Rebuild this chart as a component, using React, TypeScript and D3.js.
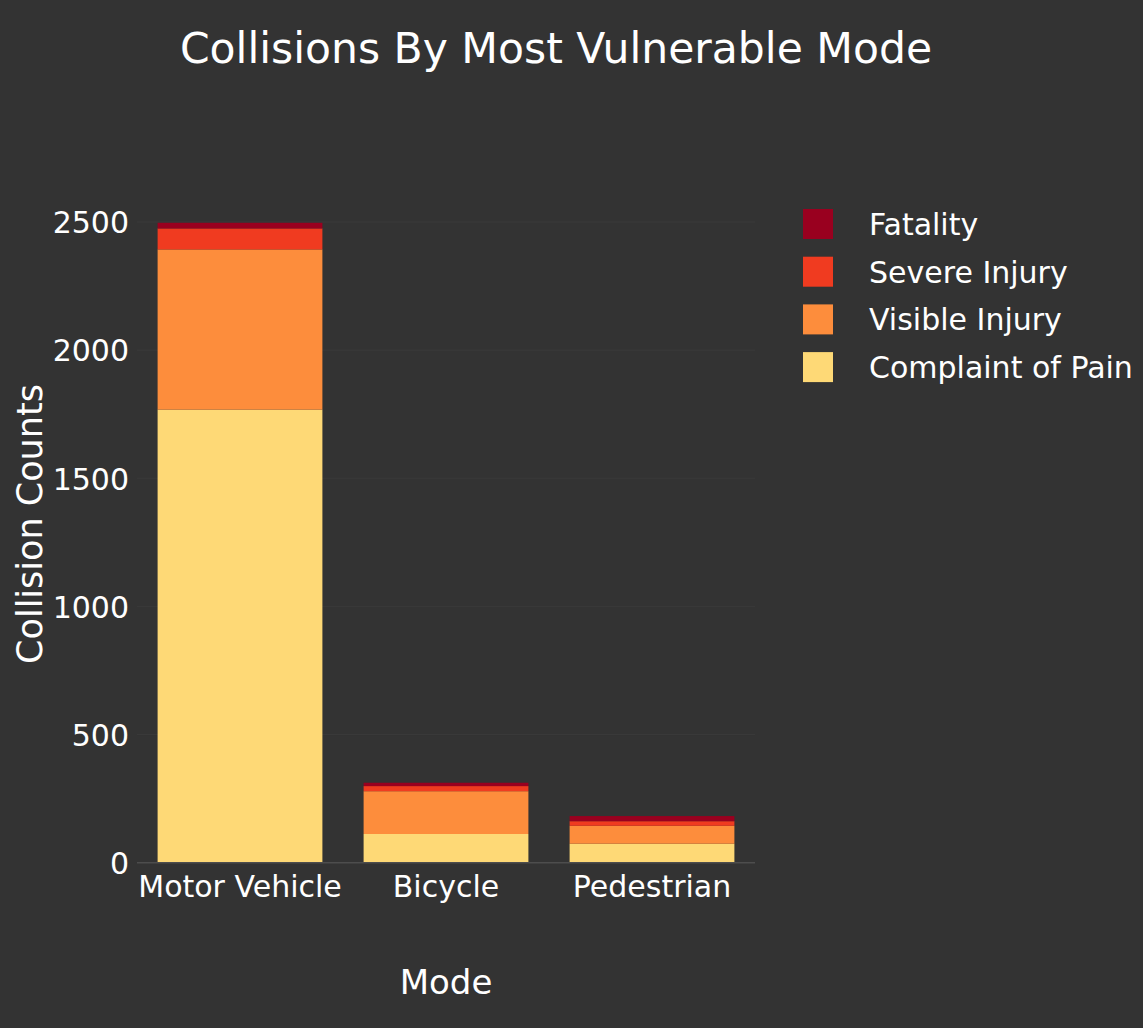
import { useEffect, useRef } from "react"
import * as d3 from "d3"

// modes on the x axis
const modes = ["Motor Vehicle", "Bicycle", "Pedestrian"]

// severity series, bottom of the stack first
const severities = ["Complaint of Pain", "Visible Injury", "Severe Injury", "Fatality"]
const severityColors = ["#fed976", "#fd8d3c", "#f03b20", "#99001f"]

// counts per mode, in the order of `modes`
const complaintOfPain = [1768, 112, 74]
const visibleInjury = [625, 167, 70]
const severeInjury = [82, 20, 18]
const fatality = [22, 13, 20]

const yTicks = [0, 500, 1000, 1500, 2000, 2500]

const W = 1143
const H = 1028
const FONT = "'DejaVu Sans', Verdana, sans-serif"

export default function App() {
  const svgRef = useRef<SVGSVGElement>(null)

  useEffect(() => {
    if (!svgRef.current) return
    const svg = d3.select(svgRef.current)
    svg.selectAll("*").remove()

    svg.append("rect").attr("width", W).attr("height", H).attr("fill", "#333333")

    const x = d3.scaleBand().domain(modes).range([137, 755]).paddingInner(0.2).paddingOuter(0.1)
    const y = d3.scaleLinear().domain([0, 2500]).range([862.7, 222])

    // stacked table
    const table = modes.map((m, i) => ({
      mode: m,
      "Complaint of Pain": complaintOfPain[i],
      "Visible Injury": visibleInjury[i],
      "Severe Injury": severeInjury[i],
      Fatality: fatality[i],
    }))
    const stacked = d3.stack<any>().keys(severities)(table)
    const color = d3.scaleOrdinal<string>().domain(severities).range(severityColors)

    // gridlines
    svg
      .append("g")
      .selectAll("line")
      .data(yTicks.filter((t) => t > 0))
      .enter()
      .append("line")
      .attr("x1", 137)
      .attr("x2", 755)
      .attr("y1", (d) => y(d))
      .attr("y2", (d) => y(d))
      .attr("stroke", "#3a3a3a")
      .attr("stroke-width", 1)

    // bars
    svg
      .append("g")
      .selectAll("g")
      .data(stacked)
      .enter()
      .append("g")
      .attr("fill", (d) => color(d.key))
      .selectAll("rect")
      .data((d) => d)
      .enter()
      .append("rect")
      .attr("x", (d: any) => x(d.data.mode) || 0)
      .attr("y", (d) => y(d[1]))
      .attr("width", x.bandwidth())
      .attr("height", (d) => y(d[0]) - y(d[1]))

    // zero line
    svg
      .append("line")
      .attr("x1", 137)
      .attr("x2", 755)
      .attr("y1", y(0))
      .attr("y2", y(0))
      .attr("stroke", "#4d4d4d")
      .attr("stroke-width", 1.5)

    // y axis
    const yAxis = svg
      .append("g")
      .attr("transform", "translate(137,0)")
      .call(d3.axisLeft(y).tickValues(yTicks).tickSize(0).tickPadding(8).tickFormat(d3.format("d")))
    yAxis.select(".domain").remove()
    yAxis
      .selectAll("text")
      .attr("fill", "#ffffff")
      .style("font-family", FONT)
      .style("font-size", "30px")
      .attr("dy", "0.36em")

    // x axis
    const xAxis = svg
      .append("g")
      .attr("transform", `translate(0,${y(0)})`)
      .call(d3.axisBottom(x).tickSize(0).tickPadding(13))
    xAxis.select(".domain").remove()
    xAxis
      .selectAll("text")
      .attr("fill", "#ffffff")
      .style("font-family", FONT)
      .style("font-size", "30px")

    // titles
    svg
      .append("text")
      .attr("x", 556)
      .attr("y", 63)
      .attr("text-anchor", "middle")
      .attr("fill", "#ffffff")
      .style("font-family", FONT)
      .style("font-size", "42.5px")
      .text("Collisions By Most Vulnerable Mode")

    svg
      .append("text")
      .attr("x", 446)
      .attr("y", 994)
      .attr("text-anchor", "middle")
      .attr("fill", "#ffffff")
      .style("font-family", FONT)
      .style("font-size", "34px")
      .text("Mode")

    svg
      .append("text")
      .attr("transform", "translate(42,524) rotate(-90)")
      .attr("text-anchor", "middle")
      .attr("fill", "#ffffff")
      .style("font-family", FONT)
      .style("font-size", "35px")
      .text("Collision Counts")

    // legend (top of stack first)
    const legendItems = severities.slice().reverse()
    const legend = svg
      .append("g")
      .selectAll("g")
      .data(legendItems)
      .enter()
      .append("g")
      .attr("transform", (_d, i) => `translate(803,${224 + i * 47.7})`)
    legend
      .append("rect")
      .attr("x", 0)
      .attr("y", -15)
      .attr("width", 30)
      .attr("height", 30)
      .attr("fill", (d) => color(d))
    legend
      .append("text")
      .attr("x", 66)
      .attr("y", 0)
      .attr("dy", "0.36em")
      .attr("fill", "#ffffff")
      .style("font-family", FONT)
      .style("font-size", "30px")
      .text((d) => d)
  }, [])

  return (
    <svg
      ref={svgRef}
      width={W}
      height={H}
      style={{ position: "absolute", left: 0, top: 0, display: "block" }}
    />
  )
}
